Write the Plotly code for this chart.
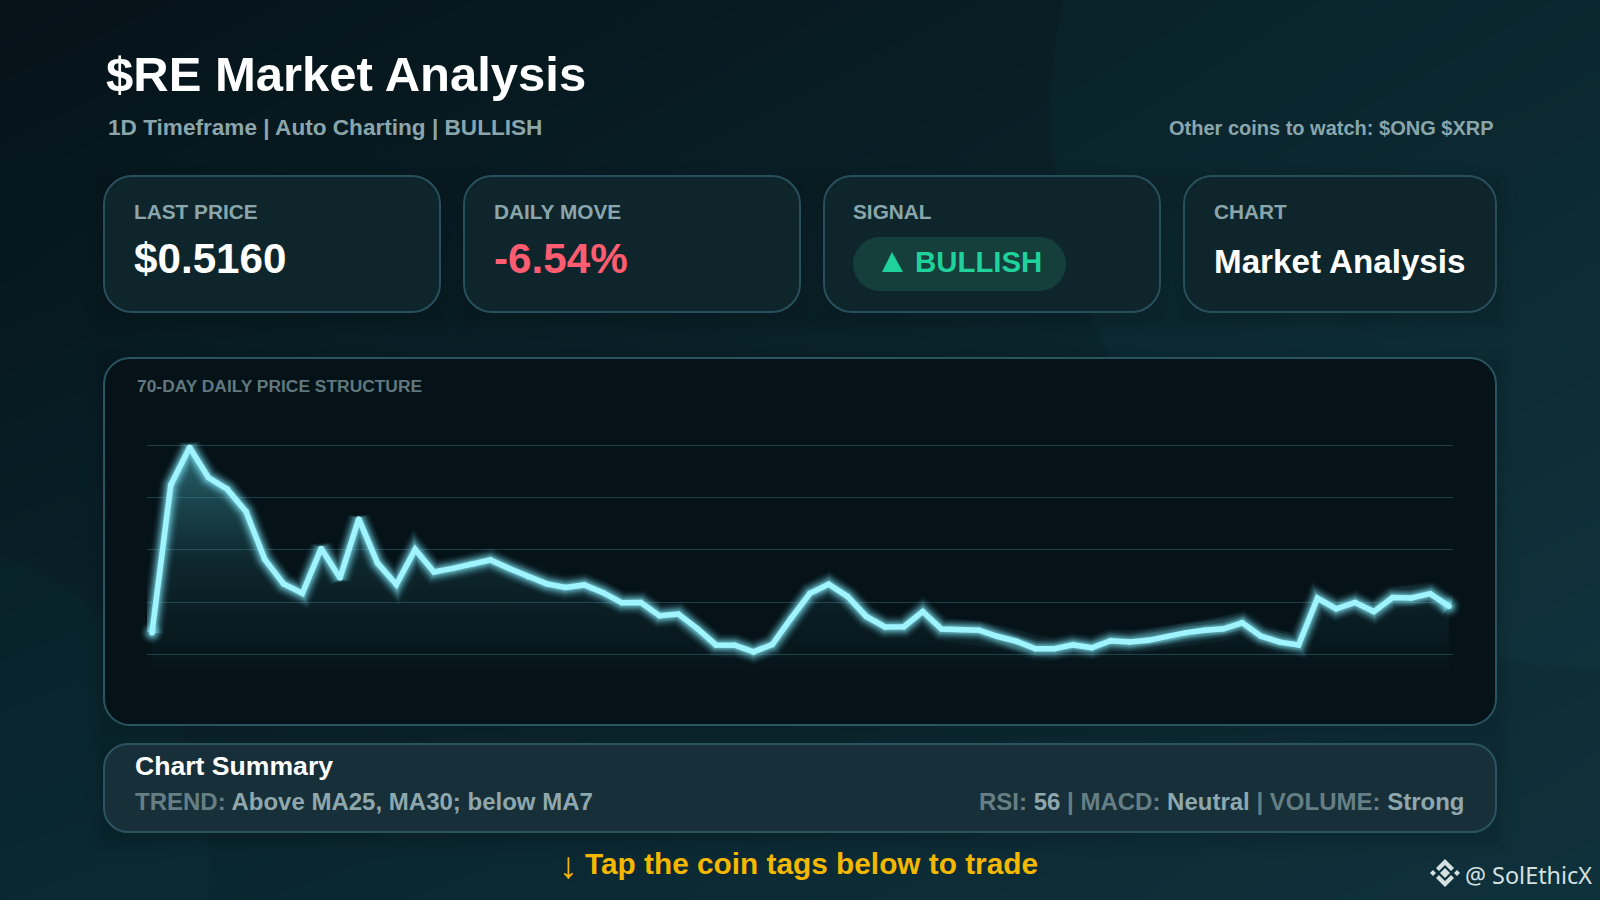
import base64
import struct
import zlib

import numpy as np
import plotly.graph_objects as go

W, H = 1600, 900

# daily closes
days = list(range(70))
prices = [0.441, 0.862, 0.969, 0.883, 0.850, 0.786, 0.650, 0.580, 0.553, 0.681,
          0.597, 0.765, 0.639, 0.578, 0.678, 0.614, 0.624, 0.636, 0.648, 0.624,
          0.600, 0.580, 0.570, 0.577, 0.555, 0.526, 0.527, 0.489, 0.494, 0.453,
          0.406, 0.405, 0.386, 0.407, 0.482, 0.553, 0.579, 0.544, 0.487, 0.457,
          0.458, 0.501, 0.451, 0.449, 0.448, 0.430, 0.416, 0.395, 0.395, 0.406,
          0.398, 0.418, 0.414, 0.419, 0.430, 0.441, 0.448, 0.452, 0.469, 0.431,
          0.414, 0.406, 0.539, 0.509, 0.527, 0.501, 0.541, 0.540, 0.552, 0.516]
grid_levels = [0.379, 0.528, 0.677, 0.826, 0.975]

FONT = "Liberation Sans"
LINE = "#a0f4ff"
CARD_BOXES = [(104, 176, 440, 312), (464, 176, 800, 312),
              (824, 176, 1160, 312), (1184, 176, 1496, 312)]
PANEL_BOX = (104, 358, 1496, 725)
SUMMARY_BOX = (104, 744, 1496, 832)


def px(x):
    return x / W


def py(y):
    return 1 - y / H


# rounded rectangle as a paper-space path, sizes given in pixels
def rounded_path(x0, y0, x1, y1, r):
    k = r * 0.45
    pts = [("M", x0 + r, y0), ("L", x1 - r, y0),
           ("C", x1 - k, y0, x1, y0 + k, x1, y0 + r), ("L", x1, y1 - r),
           ("C", x1, y1 - k, x1 - k, y1, x1 - r, y1), ("L", x0 + r, y1),
           ("C", x0 + k, y1, x0, y1 - k, x0, y1 - r), ("L", x0, y0 + r),
           ("C", x0, y0 + k, x0 + k, y0, x0 + r, y0)]
    out = []
    for p in pts:
        coords = p[1:]
        pairs = [f"{px(coords[i])},{py(coords[i + 1])}" for i in range(0, len(coords), 2)]
        out.append(p[0] + " ".join(pairs))
    return " ".join(out) + " Z"


def poly_path(points):
    return "M" + " L".join(f"{px(x)},{py(y)}" for x, y in points) + " Z"


def box_shape(box, r, fill, line, width=2):
    return dict(type="path", xref="paper", yref="paper", layer="below",
                path=rounded_path(*box, r), fillcolor=fill,
                line=dict(color=line, width=width))


# background picture: dark teal wash, big soft circles, card shadows
def background_uri():
    yy, xx = np.mgrid[0:H, 0:W].astype(float)
    u = xx / W
    v = yy / H
    tl = np.array([6, 19, 25.0])
    tr = np.array([10, 36, 43.0])
    bl = np.array([9, 38, 47.0])
    br = np.array([16, 50, 60.0])
    img = np.zeros((H, W, 3))
    for c in range(3):
        img[..., c] = (tl[c] * (1 - u) * (1 - v) + tr[c] * u * (1 - v)
                       + bl[c] * (1 - u) * v + br[c] * u * v)
    circle = np.clip((560 - np.hypot(xx - 1610, yy - 110)) / 3, 0, 1)
    img += circle[..., None] * np.array([1.5, 4, 4.5])
    corner = np.clip((330 - np.hypot(xx + 120, yy - 860)) / 3, 0, 1)
    img += corner[..., None] * np.array([1, 3, 3])
    for x0, y0, x1, y1 in CARD_BOXES + [PANEL_BOX, SUMMARY_BOX]:
        cx, cy = (x0 + x1) / 2, (y0 + y1) / 2 + 6
        dx = np.abs(xx - cx) - (x1 - x0) / 2
        dy = np.abs(yy - cy) - (y1 - y0) / 2
        dist = np.hypot(np.maximum(dx, 0), np.maximum(dy, 0))
        img *= (1 - 0.14 * np.clip(1 - dist / 26, 0, 1) ** 2)[..., None]
    data = np.clip(img, 0, 255).astype(np.uint8)
    raw = b"".join(b"\x00" + row.tobytes() for row in data)

    def chunk(tag, body):
        return (struct.pack(">I", len(body)) + tag + body
                + struct.pack(">I", zlib.crc32(tag + body) & 0xffffffff))

    png = (b"\x89PNG\r\n\x1a\n"
           + chunk(b"IHDR", struct.pack(">IIBBBBB", W, H, 8, 2, 0, 0, 0))
           + chunk(b"IDAT", zlib.compress(raw, 9)) + chunk(b"IEND", b""))
    return "data:image/png;base64," + base64.b64encode(png).decode()


def label(x, baseline, text, size, color, anchor="left", bold=True, family=FONT):
    return dict(xref="paper", yref="paper", x=px(x), y=py(baseline - 0.3465 * size),
                text=text, showarrow=False, xanchor=anchor, yanchor="middle",
                borderpad=0, align=anchor,
                font=dict(family=family, size=size, color=color,
                          weight=700 if bold else 400))


fig = go.Figure()

# area under the line, fades out towards the bottom of the panel
fig.add_trace(go.Scatter(x=days, y=prices, mode="none", fill="tozeroy", hoverinfo="skip",
                         fillgradient=dict(type="vertical", start=0.30, stop=0.97,
                                           colorscale=[[0, "rgba(60,150,165,0)"],
                                                       [0.5, "rgba(60,150,165,0.15)"],
                                                       [1, "rgba(70,165,180,0.55)"]])))
# glow, widest first so the layers build up towards the line
glow_layers = [(25, 0.02), (23, 0.03), (21, 0.04), (19, 0.05), (17, 0.07),
               (15, 0.09), (13, 0.12), (11, 0.15), (9, 0.20), (7, 0.25)]
ends_x = [days[0], days[-1]]
ends_y = [prices[0], prices[-1]]
for width, alpha in glow_layers:
    fig.add_trace(go.Scatter(x=days, y=prices, mode="lines", hoverinfo="skip", cliponaxis=False,
                             line=dict(color=f"rgba(130,235,250,{alpha})", width=width)))
    fig.add_trace(go.Scatter(x=ends_x, y=ends_y, mode="markers", hoverinfo="skip", cliponaxis=False,
                             marker=dict(color=f"rgba(130,235,250,{alpha})", size=width)))
# markers on every point give the core line round joins and ends
fig.add_trace(go.Scatter(x=days, y=prices, mode="lines+markers", cliponaxis=False,
                         line=dict(color=LINE, width=5.5),
                         marker=dict(color=LINE, size=5.5),
                         hovertemplate="Day %{x}<br>$%{y:.4f}<extra></extra>"))

shapes = [box_shape(b, 28, "#0e262b", "#28505c") for b in CARD_BOXES]
shapes.append(box_shape(PANEL_BOX, 26, "#051217", "#2a5560"))
shapes.append(box_shape(SUMMARY_BOX, 24, "#172f38", "#2b5460"))
shapes.append(box_shape((853, 237, 1066, 291), 27, "#153f3a", "#153f3a", 0))
# signal triangle
shapes.append(dict(type="path", xref="paper", yref="paper", line=dict(width=0),
                   fillcolor="#1fd19a", path=poly_path([(892, 252), (903, 272), (882, 272)])))
# exchange logo next to the handle
logo_x, logo_y = 1445, 873
logo_parts = [
    [(0, -5), (5, 0), (0, 5), (-5, 0)],
    [(-12, -3), (-9, 0), (-12, 3), (-15, 0)],
    [(12, -3), (15, 0), (12, 3), (9, 0)],
    [(0, -14), (9, -5), (6, -2), (0, -8), (-6, -2), (-9, -5)],
    [(0, 14), (-9, 5), (-6, 2), (0, 8), (6, 2), (9, 5)],
]
for part in logo_parts:
    shapes.append(dict(type="path", xref="paper", yref="paper", line=dict(width=0),
                       fillcolor="#d5e0e0",
                       path=poly_path([(logo_x + a, logo_y + b) for a, b in part])))

MUTED = "#8aa6ac"
DIM = "#667f85"
SOFT = "#8fa8ae"
annotations = [
    label(105, 90.7, "$RE Market Analysis", 49, "#ffffff"),
    label(106.5, 135, "1D Timeframe | Auto Charting | BULLISH", 22.6, MUTED),
    label(1495, 134.7, "Other coins to watch: $ONG $XRP", 20, MUTED, "right"),
    label(133, 218.5, "LAST PRICE", 20.8, MUTED),
    label(493, 218.5, "DAILY MOVE", 20.8, MUTED),
    label(852, 218.5, "SIGNAL", 20.8, MUTED),
    label(1212.5, 218.5, "CHART", 20.8, MUTED),
    label(133, 273.5, "$0.5160", 42.2, "#ffffff"),
    label(493, 273.5, "-6.54%", 42.2, "#ff5c72"),
    label(914, 272, "BULLISH", 29.4, "#1fd19a"),
    label(1213, 272.7, "Market Analysis", 33.2, "#ffffff"),
    label(135.5, 392, "70-DAY DAILY PRICE STRUCTURE", 17.4, "#60797f"),
    label(133.5, 775, "Chart Summary", 26.6, "#ffffff"),
    label(133.5, 810, f'<span style="color:{DIM}">TREND:</span> Above MA25, MA30; below MA7', 24, SOFT),
    label(1464.5, 810, f'<span style="color:{DIM}">RSI:</span> 56 <span style="color:{DIM}">| MACD:</span> Neutral '
                       f'<span style="color:{DIM}">| VOLUME:</span> Strong', 24, SOFT, "right"),
    label(584, 874, "Tap the coin tags below to trade", 29.8, "#f5b800"),
    label(558, 878, "↓", 37, "#f5b800", bold=False),
    label(1463.5, 883, "@ SolEthicX", 23.4, "#d5e0e0", bold=False, family="Noto Sans"),
]

fig.update_layout(
    width=W, height=H, margin=dict(l=0, r=0, t=0, b=0),
    paper_bgcolor="#0a2028", plot_bgcolor="rgba(0,0,0,0)",
    showlegend=False, shapes=shapes, annotations=annotations,
    images=[dict(source=background_uri(), xref="paper", yref="paper", x=0, y=1,
                 sizex=1, sizey=1, sizing="stretch", layer="below",
                 xanchor="left", yanchor="top")],
    xaxis=dict(domain=[px(147), px(1453)], range=[-0.266, 69.213], visible=False),
    yaxis=dict(domain=[py(700), py(400)], range=[0.249, 1.104], tickvals=grid_levels,
               showticklabels=False, ticks="", zeroline=False, showline=False,
               showgrid=True, gridcolor="#1e3f47", gridwidth=1),
)

fig.write_html("out.html", config={"displayModeBar": False},
               post_script="document.body.style.margin='0';")
